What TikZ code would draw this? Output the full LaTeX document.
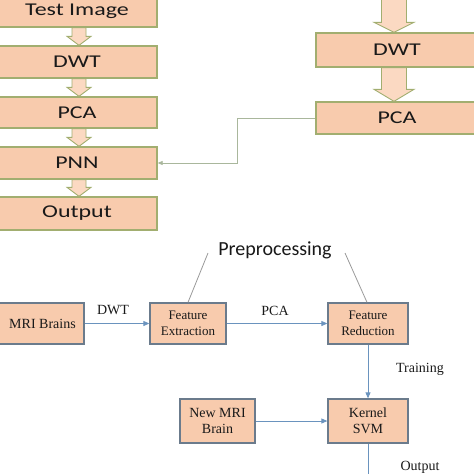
\documentclass[tikz,border=0pt]{standalone}
\usepackage{fontspec}
\usetikzlibrary{arrows.meta,calc}
\newfontfamily\topfont[FakeStretch=1.33]{Carlito}
\newfontfamily\prefont{Carlito}
\newfontfamily\serfont{Liberation Serif}
\definecolor{peach}{HTML}{F8CBAD}
\definecolor{peachlight}{HTML}{FBD9C2}
\definecolor{olive}{HTML}{A2AE70}
\definecolor{slate}{HTML}{6B7B8C}
\definecolor{steel}{HTML}{6A93BE}
\definecolor{thin}{HTML}{A9B79C}
\tikzset{
  topbox/.style={draw=olive,line width=1.3pt,fill=peach,inner sep=0pt,
    font=\topfont\fontsize{18}{20}\selectfont,text=black!90},
  blockarr/.style={draw=olive,line width=0.9pt,fill=peachlight},
  botbox/.style={draw=slate,line width=1.3pt,fill=peach,inner sep=0pt,align=center,
    font=\serfont\fontsize{14}{16}\selectfont,text=black!90},
  featbox/.style={botbox,font=\serfont\fontsize{13}{16}\selectfont},
  lbl/.style={font=\serfont\fontsize{14}{16}\selectfont,text=black!90,inner sep=0pt},
  flow/.style={draw=steel,line width=0.8pt,-{Triangle[length=6pt,width=5pt]}},
  fbline/.style={draw=thin,line width=0.8pt,-{Triangle[length=5pt,width=4pt]}},
  preline/.style={draw=gray!80,line width=0.8pt}
}
\begin{document}
\begin{tikzpicture}[x=1pt,y=-1pt]
\useasboundingbox (0,0) rectangle (474,474);
\clip (0,0) rectangle (474,474);
% top left column
\node[topbox,minimum width=160pt,minimum height=32pt] (ti) at (77,11) {Test Image};
\node[topbox,minimum width=160pt,minimum height=32pt] (d1) at (77,62) {DWT};
\node[topbox,minimum width=160pt,minimum height=31pt] (p1) at (77,112.5) {PCA};
\node[topbox,minimum width=160pt,minimum height=32pt] (pn) at (77,163) {PNN};
\node[topbox,minimum width=160pt,minimum height=33pt] (out) at (77,213.5) {Output};
% top right column
\node[topbox,minimum width=162pt,minimum height=34pt] (d2) at (397,50) {DWT};
\node[topbox,minimum width=162pt,minimum height=32pt] (p2) at (397,118) {PCA};
\coordinate (rtop) at (394,-5);
% block arrows left
\foreach \a/\b in {ti/d1,d1/p1,p1/pn,pn/out}{
  \path let \p1=(\a.south), \p2=(\b.north) in
    coordinate (s) at (79,\y1) coordinate (e) at (79,\y2);
  \draw[blockarr] let \p1=(s), \p2=(e), \n1={\y2+9} in
    (\x1-7,\y1) -- (\x1-7,\n1) -- (\x1-12,\n1) -- (\x2,\y2) -- (\x1+12,\n1)
    -- (\x1+7,\n1) -- (\x1+7,\y1) -- cycle;
}
% block arrows right
\draw[blockarr] let \p1=(rtop), \p2=(d2.north) in
  (\x1-12.5,\y1) -- (\x1-12.5,\y2+10) -- (\x1-20,\y2+10) -- (\x1,\y2)
  -- (\x1+20,\y2+10) -- (\x1+12.5,\y2+10) -- (\x1+12.5,\y1) -- cycle;
\path let \p1=(d2.south) in coordinate (s2) at (394,\y1);
\draw[blockarr] let \p1=(s2), \p2=(p2.north) in
  (\x1-12.5,\y1) -- (\x1-12.5,\y2+12) -- (\x1-20,\y2+12) -- (\x1,\y2)
  -- (\x1+20,\y2+12) -- (\x1+12.5,\y2+12) -- (\x1+12.5,\y1) -- cycle;
% feedback connector
\draw[fbline] (p2.west) -- (237,118) -- (237,163) -- (pn.east);
% bottom
\node[font=\prefont\fontsize{20}{24}\selectfont,text=black!90,inner sep=0pt] (pre) at (275,250) {Preprocessing};
\node[botbox,minimum width=87pt,minimum height=41pt] (mri) at (40.5,323.5) {\hspace*{4pt}MRI Brains};
\node[featbox,minimum width=76pt,minimum height=41pt] (fe) at (188,323.5) {Feature\\Extraction};
\node[featbox,minimum width=80pt,minimum height=41pt] (fr) at (368,323.5) {Feature\\Reduction};
\node[botbox,minimum width=75pt,minimum height=44pt] (nm) at (217.5,421) {New MRI\\Brain};
\node[botbox,minimum width=80pt,minimum height=44pt] (ks) at (368,421) {Kernel\\SVM};
\coordinate (pl) at (208,253);
\coordinate (pr) at (345,253);
\draw[preline] (pl) -- (fe.north);
\draw[preline] (pr) -- ($(fr.north)+(-1,0)$);
\draw[flow] (mri.east) -- (fe.west);
\draw[flow] (fe.east) -- (fr.west);
\draw[flow] (fr.south) -- (ks.north);
\draw[flow] (nm.east) -- (ks.west);
\coordinate (ksend) at (368,480);
\draw[draw=steel,line width=0.8pt] (ks.south) -- (ksend);
\node[lbl] (ldwt) at (113,310) {DWT};
\node[lbl] (lpca) at (275,311) {PCA};
\node[lbl] (ltr) at (420,369) {Training};
\node[lbl] (lout) at (420,467) {Output};
\end{tikzpicture}
\end{document}
